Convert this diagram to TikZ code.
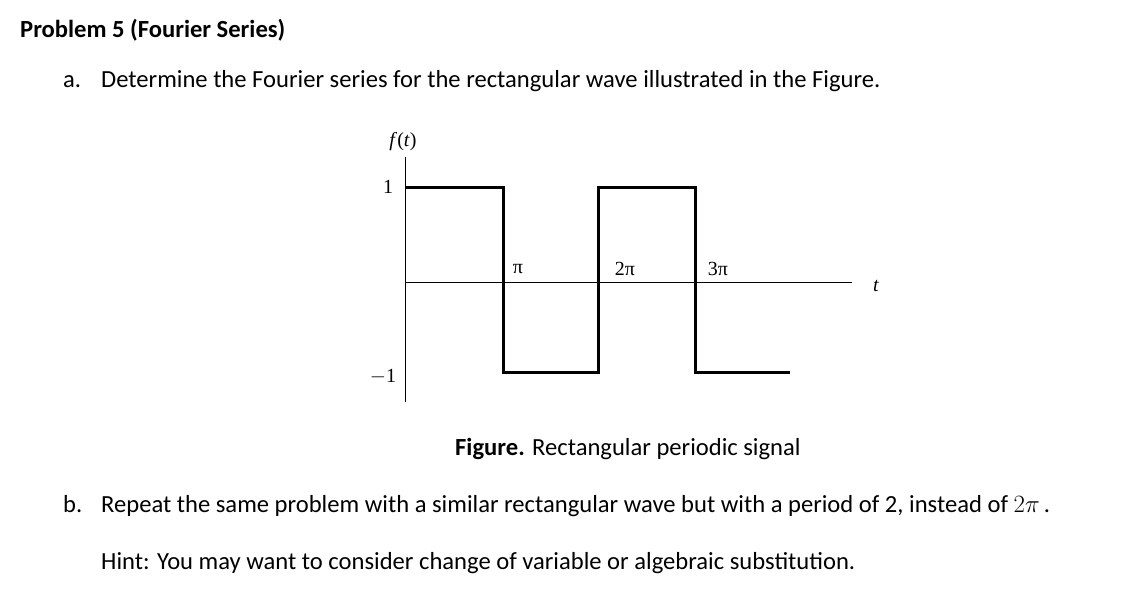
\documentclass[tikz,border=0pt]{standalone}
\usepackage{fontspec}
\setmainfont{Carlito}
\newfontfamily\tms{Liberation Serif}
\begin{document}
\begin{tikzpicture}[x=1pt,y=-1pt,
  txt/.style={anchor=base west,inner sep=0pt,font=\fontsize{24.6}{29}\selectfont},
  lbl/.style={inner sep=0pt,font=\tms\fontsize{20}{24}\selectfont},
  wave/.style={line width=3pt},
  axis/.style={line width=1pt}]
\useasboundingbox (0,0) rectangle (1141,610);
\node[txt] (title) at (20,38) {\textbf{Problem 5 (Fourier Series)}};
\node[txt] (a) at (63,88) {a.};
\node[txt] (at) at (101,88) {Determine the Fourier series for the rectangular wave illustrated in the Figure.};
\node[txt] (cap) at (455,455) {\textbf{Figure.} Rectangular periodic signal};
\node[txt] (b) at (63,512) {b.};
\node[txt] (bt) at (101,512) {Repeat the same problem with a similar rectangular wave but with a period of 2, instead of $2\pi$\,.};
\node[txt] (hint) at (101,569) {Hint: You may want to consider change of variable or algebraic substitution.};
\coordinate (o) at (405,282);
\coordinate (ytop) at (405,157);
\coordinate (ybot) at (405,402);
\coordinate (xend) at (852,282);
\draw[axis] (ytop) -- (ybot);
\draw[axis] (o) -- (xend);
\draw[wave] (405,187) -- (503,187) -- (503,372) -- (598,372) -- (598,187) -- (695,187) -- (695,372) -- (790,372);
\node[lbl] (l1) at (388,187) {1};
\node[lbl] (lm1) at (383,377) {$-$1};
\node[lbl] (lp) at (518,269) {π};
\node[lbl] (l2p) at (625,269) {2π};
\node[lbl] (l3p) at (718,269) {3π};
\node[lbl] (lt) at (876,286) {\textit{t}};
\node[lbl] (lf) at (403,142) {\textit{f}(\textit{t})};
\end{tikzpicture}
\end{document}
